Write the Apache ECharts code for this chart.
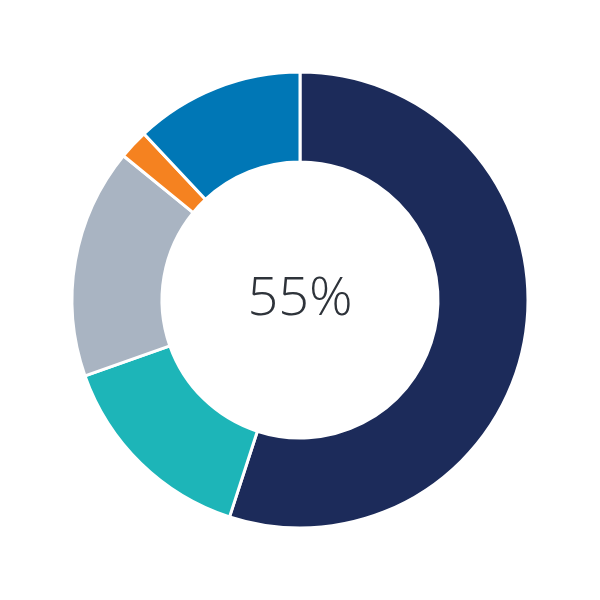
<!DOCTYPE html>
<html>
<head>
<meta charset="utf-8">
<script src="https://cdn.jsdelivr.net/npm/echarts@6/dist/echarts.min.js"></script>
<style>
  html, body { margin: 0; padding: 0; background: #fff; }
  #main { width: 600px; height: 600px; }
</style>
</head>
<body>
<div id="main"></div>
<script>
var names = ['A', 'B', 'C', 'D', 'E'];
var values = [55, 14.6, 16.3, 2.1, 12.0];
var colors = ['#1c2b5a', '#1db5b8', '#a9b4c2', '#f58220', '#0077b6'];
var centerText = '55%';

var chart = echarts.init(document.getElementById('main'));

var data = [];
for (var i = 0; i < values.length; i++) {
  data.push({ name: names[i], value: values[i], itemStyle: { color: colors[i] } });
}

var option = {
  animation: false,
  title: {
    text: centerText,
    left: 'center',
    top: 'middle',
    textStyle: {
      fontFamily: '"Open Sans", sans-serif',
      fontSize: 54,
      fontWeight: 300,
      color: '#2e333a'
    }
  },
  series: [
    {
      type: 'pie',
      center: [300, 300],
      radius: [138, 228],
      startAngle: 90,
      clockwise: true,
      label: { show: false },
      labelLine: { show: false },
      itemStyle: { borderColor: '#fff', borderWidth: 3 },
      emphasis: { disabled: true },
      data: data
    }
  ]
};

chart.setOption(option);
</script>
</body>
</html>
